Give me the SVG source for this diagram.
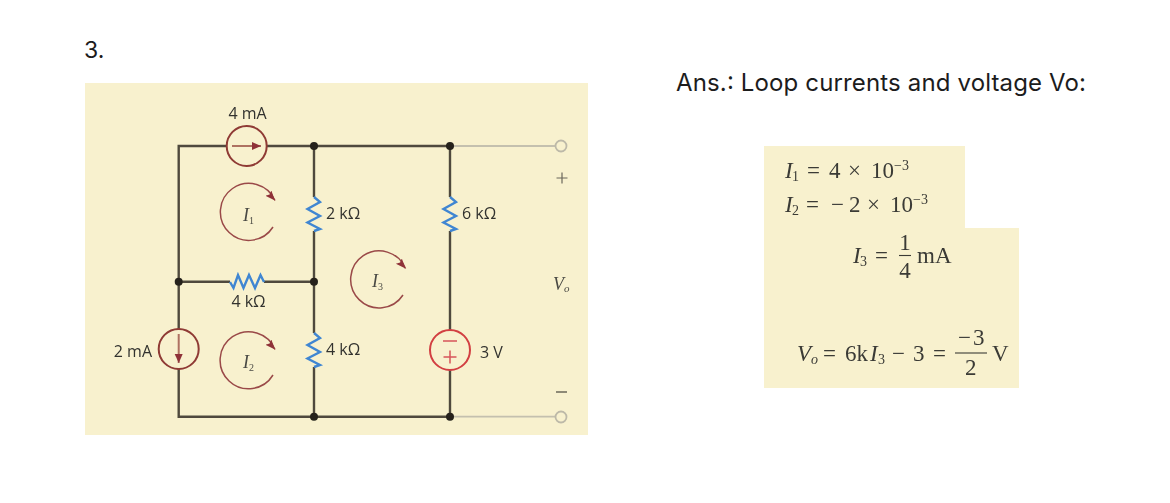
<svg xmlns="http://www.w3.org/2000/svg" width="1170" height="503" viewBox="0 0 1170 503">
<style>
.ui{font-family:Inter,"Open Sans",sans-serif;fill:#1c1c1c}
.lb{font-family:"Open Sans","Noto Sans",sans-serif;font-size:16px;fill:#33332f}
.ma{font-family:"Liberation Serif","Times New Roman",serif;font-size:23px;fill:#3a3a36}
.sm{font-family:"Liberation Serif","Times New Roman",serif;font-size:14px;fill:#3a3a36}
.cu{font-family:"Liberation Serif","Times New Roman",serif;font-size:18px;font-style:italic;fill:#4a4a44}
.wire{fill:none;stroke:#4f4a3c;stroke-width:2.400}
.out{fill:none;stroke:#c4c0ae;stroke-width:1.800}
.res{fill:none;stroke:#3f86d2;stroke-width:2.400;stroke-linejoin:miter}
.src{fill:none;stroke:#8f3a34;stroke-width:2}
.vs{fill:none;stroke:#d23f42;stroke-width:2}
.loop{fill:none;stroke:#9a4a48;stroke-width:1.500}
.dot{fill:#26231c}
.term{fill:#f8f1ce;stroke:#bdb9a8;stroke-width:1.800}
.bar{fill:none;stroke:#3a3a36;stroke-width:1.100}
</style>
<defs>
<filter id="soft" x="-5%" y="-5%" width="110%" height="110%"><feGaussianBlur stdDeviation="0.55"/></filter>
<marker id="loopHead" markerWidth="12" markerHeight="12" refX="10" refY="4" orient="48" markerUnits="userSpaceOnUse"><path d="M0 0L10 4L0 8L2 4Z" fill="#8f3238"/></marker>
<marker id="srcHead" markerWidth="10" markerHeight="9" refX="9" refY="4" orient="auto" markerUnits="userSpaceOnUse"><path d="M0 0L9 4L0 8Z" fill="#8f3238"/></marker>
</defs>
<rect width="1170" height="503" fill="#fff"/>
<text class="ui" x="84" y="58" font-size="23">3.</text>
<text class="ui" x="676" y="91" font-size="24" textLength="410">Ans.: Loop currents and voltage Vo:</text>
<rect id="circuit-panel" x="85" y="83" width="503" height="352" fill="#f8f1ce"/>
<path id="answer-panel" d="M764 146H965V228H1019V388H764Z" fill="#f8f1ce"/>
<g filter="url(#soft)">
<g id="connectors">
<path class="wire" d="M226.700 146H178.700V329M178.700 369V416.700H450V370M266.700 146H450V197M450 231V330"/>
<path class="wire" d="M178.700 281.700H230M264 281.700H314M314 146V197M314 231V333M314 367V416.700"/>
<path class="out" d="M450 146H556M450 416.700H556"/>
</g>
<g id="node-junctions">
<circle class="dot" cx="314" cy="146" r="4"/><circle class="dot" cx="450" cy="146" r="4"/><circle class="dot" cx="178.700" cy="281.700" r="4"/><circle class="dot" cx="314" cy="281.700" r="4"/><circle class="dot" cx="314" cy="416.700" r="4"/><circle class="dot" cx="450" cy="416.700" r="4"/>
</g>
<g id="source-4ma"><circle class="src" cx="246.700" cy="146" r="20"/><path class="src" stroke-opacity=".7" d="M232 146H261" marker-end="url(#srcHead)"/><text class="lb" x="247.500" y="119" text-anchor="middle">4 mA</text></g>
<g id="source-2ma"><circle class="src" cx="178.700" cy="349" r="20"/><path class="src" stroke-opacity=".7" d="M178.700 334V363" marker-end="url(#srcHead)"/><text class="lb" x="152" y="357" text-anchor="end">2 mA</text></g>
<g id="source-3v"><circle class="vs" cx="450" cy="350" r="20"/><path d="M443 341H457M443.500 357H456.500M450 350.500V363.500" fill="none" stroke="#d8555a" stroke-width="1.500"/><text class="lb" x="480" y="358">3 V</text></g>
<g id="r-2k"><path class="res" d="M314 197L320 202L307.500 209L320 216L307.500 222.500L320 229L314 231"/><text class="lb" x="326" y="219">2 kΩ</text></g>
<g id="r-6k"><path class="res" d="M450 197L456 202L443.500 209L456 216L443.500 222.500L456 229L450 231"/><text class="lb" x="462" y="219">6 kΩ</text></g>
<g id="r-4k-v"><path class="res" d="M314 333L320 338L307.500 345L320 352L307.500 358.500L320 365L314 367"/><text class="lb" x="326" y="355">4 kΩ</text></g>
<g id="r-4k-h"><path class="res" d="M230 282L233.500 288L238 275L243.500 288L249 275L255 288L260.500 275L264 282"/><text class="lb" x="248.500" y="307" text-anchor="middle">4 kΩ</text></g>
<g id="loop-i1"><path class="loop" d="M273 227A28.500 28.500 0 1 1 275 200.500" marker-end="url(#loopHead)"/><text class="cu" x="243" y="221">I<tspan font-size="10" dy="3" font-style="normal">1</tspan></text></g>
<g id="loop-i2"><path class="loop" d="M273 375A28.500 28.500 0 1 1 275 349.500" marker-end="url(#loopHead)"/><text class="cu" x="243" y="368">I<tspan font-size="10" dy="3" font-style="normal">2</tspan></text></g>
<g id="loop-i3"><path class="loop" d="M403 295A28.500 28.500 0 1 1 405.500 268.500" marker-end="url(#loopHead)"/><text class="cu" x="372" y="287">I<tspan font-size="10" dy="3" font-style="normal">3</tspan></text></g>
<g id="output-terminals">
<circle class="term" cx="561" cy="146" r="5.500"/><circle class="term" cx="561" cy="417" r="5.500"/>
<path d="M556.500 178H567.500M562 172.500V183.500" stroke="#6b675a" stroke-width="1.200" fill="none"/>
<path d="M556 392H567" stroke="#6b675a" stroke-width="1.500" fill="none"/>
<text class="cu" x="553" y="290">V<tspan font-size="11" dy="2">o</tspan></text>
</g>
<g id="answers">
<text class="ma" x="785" y="178" font-style="italic">I</text><text class="sm" x="792" y="181">1</text><text class="ma" x="807" y="178">=</text><text class="ma" x="829" y="178">4</text><text class="ma" x="848" y="178">×</text><text class="ma" x="871" y="178">10</text><text class="sm" x="894" y="170">−3</text>
<text class="ma" x="785" y="212" font-style="italic">I</text><text class="sm" x="792" y="215">2</text><text class="ma" x="806" y="212">=</text><text class="ma" x="831" y="212">−</text><text class="ma" x="849" y="212">2</text><text class="ma" x="867" y="212">×</text><text class="ma" x="890" y="212">10</text><text class="sm" x="913" y="204">−3</text>
<text class="ma" x="853" y="263" font-style="italic">I</text><text class="sm" x="860" y="266">3</text><text class="ma" x="875" y="263">=</text>
<text class="ma" x="905" y="250" text-anchor="middle">1</text><path class="bar" d="M899 255.500H911"/><text class="ma" x="905" y="278" text-anchor="middle">4</text>
<text class="ma" x="917" y="263">mA</text>
<text class="ma" x="797" y="361" font-style="italic">V</text><text class="sm" x="811" y="364" font-style="italic">o</text><text class="ma" x="823" y="361">=</text><text class="ma" x="845" y="361">6k</text><text class="ma" x="870" y="361" font-style="italic">I</text><text class="sm" x="878" y="364">3</text><text class="ma" x="892" y="361">−</text><text class="ma" x="913" y="361">3</text><text class="ma" x="933" y="361">=</text>
<text class="ma" x="958" y="345">−</text><text class="ma" x="973" y="345">3</text><path class="bar" d="M955 353H987"/><text class="ma" x="965" y="375">2</text>
<text class="ma" x="992" y="361">V</text>
</g>
</g>
</svg>
